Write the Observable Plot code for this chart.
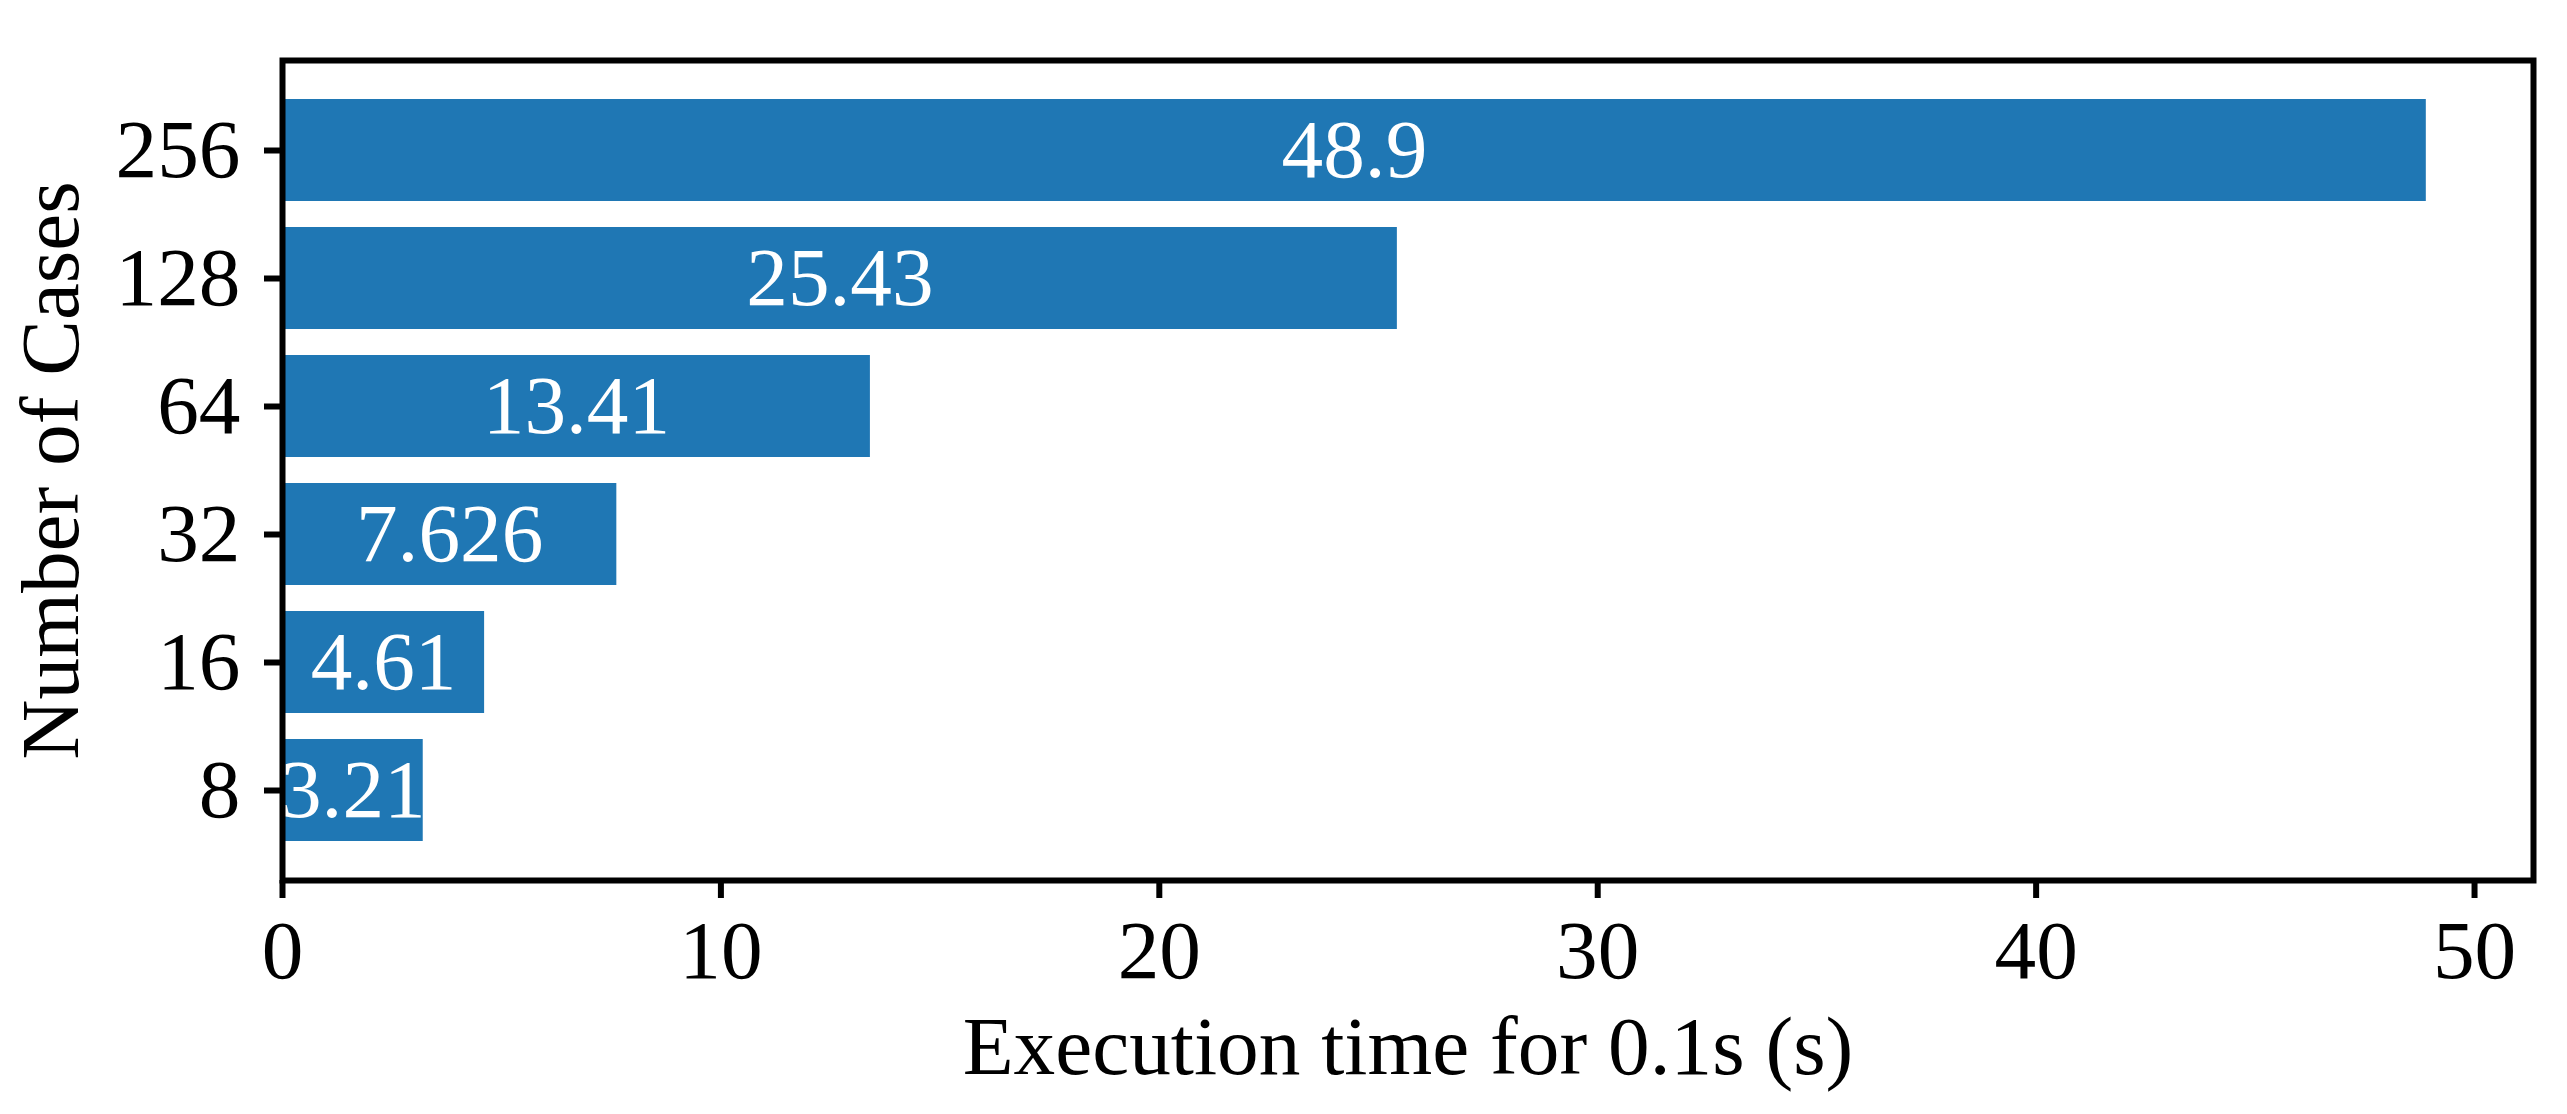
<!DOCTYPE html>
<html>
<head>
<meta charset="utf-8">
<script src="https://cdn.jsdelivr.net/npm/d3@7"></script>
<script src="https://cdn.jsdelivr.net/npm/@observablehq/plot@0.6"></script>
<style>
  html, body { margin: 0; padding: 0; background: #fff; }
  #chart svg { display: block; }
</style>
</head>
<body>
<div id="chart"></div>
<script>
const cases = ["256", "128", "64", "32", "16", "8"];
const times = [48.9, 25.43, 13.41, 7.626, 4.61, 3.21];
const labels = ["48.9", "25.43", "13.41", "7.626", "4.61", "3.21"];
const xTicks = [0, 10, 20, 30, 40, 50];

const data = cases.map((c, i) => ({case: c, time: times[i], label: labels[i]}));
const font = "'Liberation Serif', 'Times New Roman', serif";
const fs = 83.3;

const chart = Plot.plot({
  width: 2567,
  height: 1114,
  marginLeft: 282,
  marginRight: 34,
  marginTop: 60,
  marginBottom: 234,
  style: {fontFamily: font, fontSize: fs + "px", background: "#fff", color: "#000"},
  x: {domain: [0, 48.9 * 1.05], ticks: xTicks},
  y: {domain: cases, paddingInner: 0.2, paddingOuter: 0.29},
  marks: [
    Plot.barX(data, {y: "case", x1: 0, x2: "time", fill: "#1f77b4"}),
    Plot.text(data, {
      y: "case", x: d => d.time / 2, text: "label",
      fill: "white", fontSize: fs, fontFamily: font, textAnchor: "middle", lineAnchor: "middle"
    }),
    Plot.axisX({
      ticks: xTicks, tickSize: 18, tickPadding: 20, strokeWidth: 6, fontSize: fs,
      tickFormat: d => String(d),
      label: "Execution time for 0.1s (s)", labelArrow: "none", labelAnchor: "center", labelOffset: 193
    }),
    Plot.axisY({
      tickSize: 18, tickPadding: 24, strokeWidth: 6, fontSize: fs,
      label: "Number of Cases", labelArrow: "none", labelAnchor: "center", labelOffset: 264
    }),
    Plot.frame({stroke: "black", strokeWidth: 6})
  ]
});
document.getElementById("chart").appendChild(chart);
</script>
</body>
</html>
